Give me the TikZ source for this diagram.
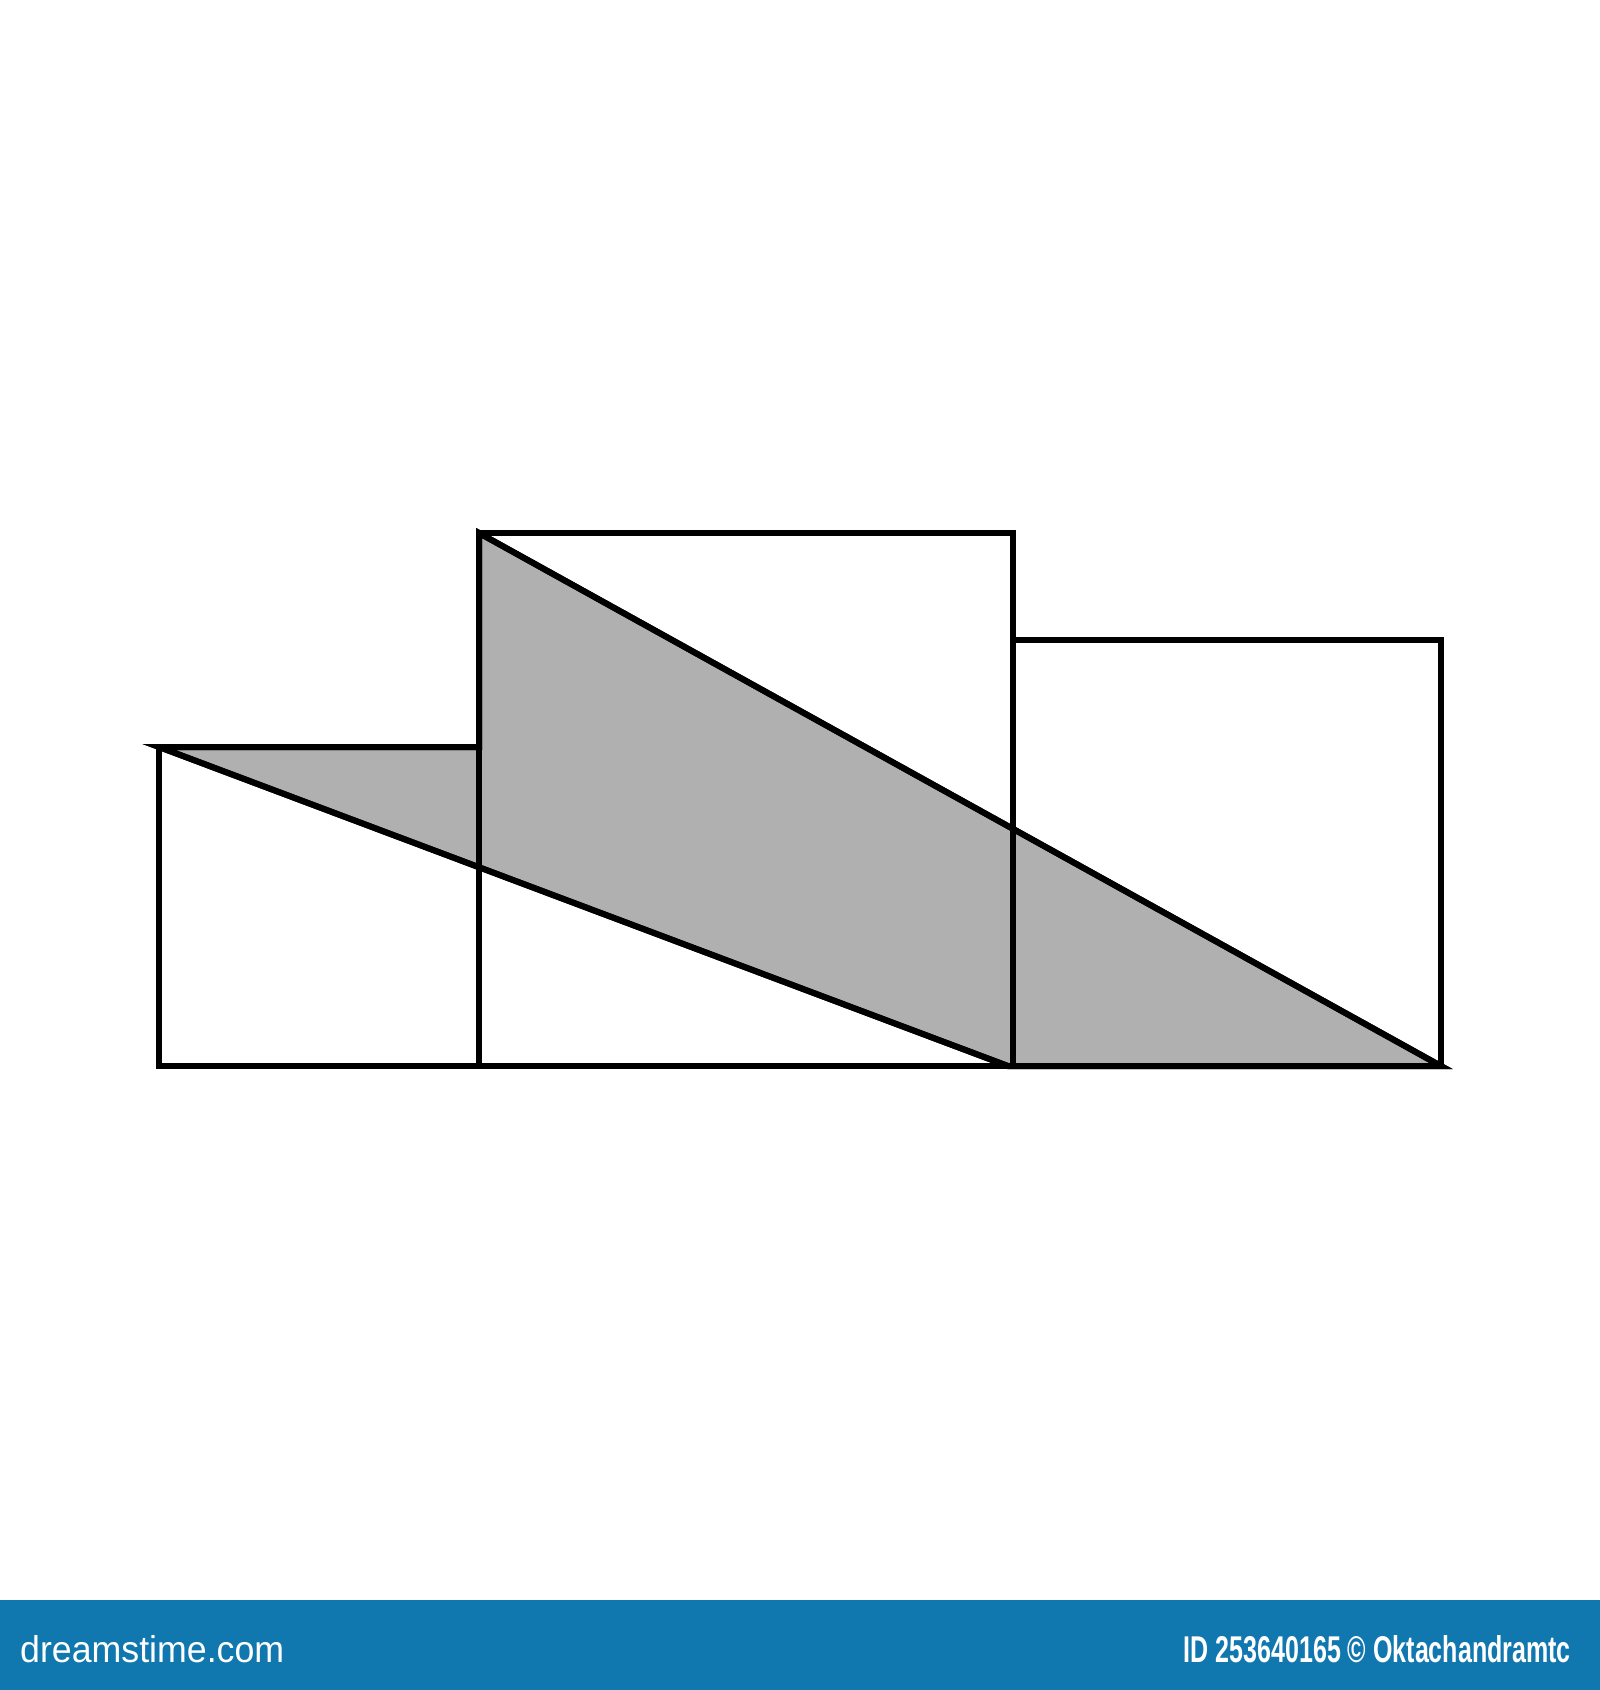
\documentclass[tikz,border=0pt]{standalone}
\usepackage{fontspec}
\setmainfont{Liberation Sans}
\definecolor{shade}{RGB}{176,176,176}
\definecolor{barblue}{RGB}{17,119,175}
\tikzset{
  outline/.style={draw=black, line width=6pt, line join=miter},
  wedge/.style={outline, fill=shade},
  bartext/.style={text=white, inner sep=0pt}
}
\begin{document}
\begin{tikzpicture}[x=1pt,y=-1pt]
\useasboundingbox (0,0) rectangle (1600,1690);
\fill[white] (0,0) rectangle (1600,1690);
% corner points
\coordinate (A) at (479,533);
\coordinate (B) at (1441,1066);
\coordinate (C) at (1008,1066);
\coordinate (D) at (159,747);
\coordinate (E) at (479,747);
% shaded wedge
\draw[wedge] (A) -- (B) -- (C) -- (D) -- (E) -- cycle;
% squares
\draw[outline] (159,747) rectangle (479,1066);
\draw[outline] (479,533) rectangle (1013,1066);
\draw[outline] (1013,640) rectangle (1441,1066);
% redraw wedge edges on top
\draw[outline] (A) -- (B) -- (C) -- (D) -- (E) -- cycle;
% bottom bar
\fill[barblue] (0,1600) rectangle (1600,1690);
\node[bartext, anchor=south west] (logo) at (20,1663) {\resizebox{264pt}{27pt}{dreamstime.com}};
\node[bartext, anchor=south east] (credit) at (1571,1663) {\resizebox{387pt}{27pt}{\bfseries ID 253640165 © Oktachandramtc}};
\end{tikzpicture}
\end{document}
